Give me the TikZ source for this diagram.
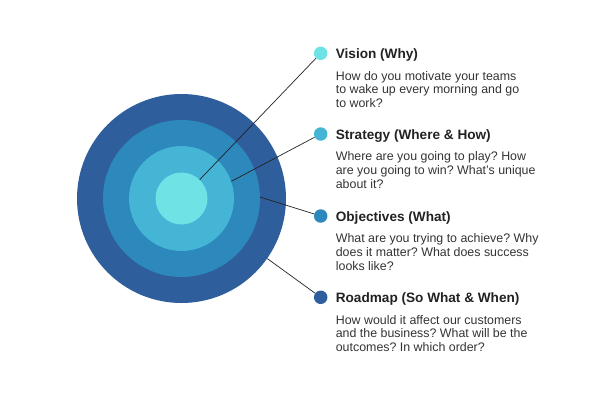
\documentclass[tikz,border=0pt]{standalone}
\usepackage{fontspec}
\setmainfont{Liberation Sans}
\usepackage{tikz}
\usetikzlibrary{positioning}
\definecolor{ringdark}{RGB}{46,95,156}
\definecolor{ringmid}{RGB}{45,136,188}
\definecolor{ringlight}{RGB}{68,181,213}
\definecolor{ringcore}{RGB}{109,227,230}
\definecolor{txtdark}{RGB}{34,34,34}
\definecolor{txtbody}{RGB}{51,51,51}
\frenchspacing

\begin{document}
\begin{tikzpicture}[
  x=1pt, y=-1pt,
  ring/.style={circle, inner sep=0pt, draw=none},
  dot/.style={circle, inner sep=0pt, minimum size=13.5pt, fill=#1},
  ttl/.style={inner sep=0pt, font=\fontsize{13.6}{15}\selectfont\bfseries,
              text=txtdark, yshift=-2pt},
  body/.style={inner sep=0pt, align=left, text=txtbody,
               font=\fontsize{12.4}{13.7}\selectfont},
  link/.style={draw=txtdark, line width=0.7pt},
]
\useasboundingbox (0,0) rectangle (600,400);

\node[ring, fill=ringdark, minimum size=209pt] (roadmap) at (181.5,198.5) {};
\node[ring, fill=ringmid, minimum size=157pt] (objectives) at (181.5,198.5) {};
\node[ring, fill=ringlight, minimum size=105pt] (strategy) at (181.5,198.5) {};
\node[ring, fill=ringcore, minimum size=52pt] (vision) at (181.5,198.5) {};

\node[dot=ringcore] (vdot) at (320.7,53.3) {};
\node[dot=ringlight] (sdot) at (320.7,134) {};
\node[dot=ringmid] (odot) at (320.7,216) {};
\node[dot=ringdark] (rdot) at (320.7,297.3) {};

\node[ttl, right=8pt of vdot] (vttl) {Vision (Why)};
\node[ttl, right=8pt of sdot] (sttl) {Strategy (Where \& How)};
\node[ttl, right=8pt of odot] (ottl) {Objectives (What)};
\node[ttl, right=8pt of rdot] (rttl) {Roadmap (So What \& When)};

\node[body, below=9.2pt of vttl.south west, anchor=north west] (vtxt)
  {How do you motivate your teams\\to wake up every morning and go\\to work?};
\node[body, below=9.2pt of sttl.south west, anchor=north west] (stxt)
  {Where are you going to play? How\\are you going to win? What's unique\\about it?};
\node[body, below=9.2pt of ottl.south west, anchor=north west] (otxt)
  {What are you trying to achieve? Why\\does it matter? What does success\\looks like?};
\node[body, below=9.2pt of rttl.south west, anchor=north west] (rtxt)
  {How would it affect our customers\\and the business? What will be the\\outcomes? In which order?};

% leaders from the rings to the dots
\draw[link] (vision.46.5) -- (vdot);
\draw[link] (strategy.19.8) -- (sdot);
\draw[link] (objectives.1) -- (odot);
\draw[link] (roadmap.-35.4) -- (rdot);

\end{tikzpicture}
\end{document}
